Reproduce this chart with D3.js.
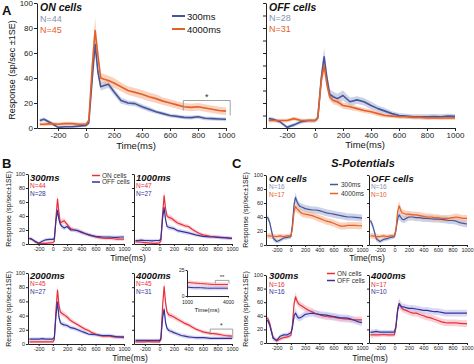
<!DOCTYPE html>
<html><head><meta charset="utf-8">
<script src="https://cdn.jsdelivr.net/npm/d3@7"></script>
<style>body{margin:0;background:#fff}svg{display:block;font-family:"Liberation Sans",Arial,sans-serif}</style>
</head><body><svg id="c" width="474" height="364"></svg>
<script>
// ---------- DATA ----------
const T = [-330,-300,-250,-200,-150,-100,-50,0,20,45,65,85,105,130,160,200,250,300,350,400,450,500,550,600,650,700,750,800,850,900,950,1000];
const xTicks = [-200,0,200,400,600,800,1000];
const yTicks = [0,20,40,60,80,100];
const yTicksMinor = [0,10,20,30,40,50,60,70,80,90,100];

// Panel A (ON cells / OFF cells; 300ms vs 4000ms)
const A_ON_300  = [6,7,4,0.5,1,1,1.5,2,4,40,67,45,33,34,35,29,22,20,19.5,17,15,13,11.5,10,9.3,8.5,8.3,9,7.8,7.5,7.2,7];
const A_ON_4000 = [3,3,3.5,3,3.5,3.5,3,3,6,50,78,58,40,39,38,36,33,30,28.5,27,25,23.5,21.5,20,18.5,17,16.5,17,16,15,14,13.5];
const A_OFF_300 = [7.5,7,5,0.5,2.5,5,6,6,8,40,57,40,27,25,23.5,26,21,22.5,21,18,15.5,13.5,11.5,10,9.5,9,9,9,9.2,9,9.5,9.3];
const A_OFF_4000= [6,6,6,6,7.5,6,6,6,8,38,50,35,25,22,21,18,17,15.5,14,13,11.5,10,9.5,9,9,8.5,8.5,8,8.2,8,8,8];
const seA_ON_300  = [1.5,1.5,1.5,1,1,1,1,1,1.5,4,5,4,3,3,3,2.5,2.5,2,2,2,2,1.5,1.5,1.5,1.5,1.5,1.5,1.5,1.5,1.5,1.5,1.5];
const seA_ON_4000 = [1.5,1.5,1.5,1.5,1.5,1.5,1.5,1.5,2,7,10,7,4,4,4,4,3.5,3.5,3.5,3.5,3.5,3.5,3,3,3,3,3,3,3,3,3,3];
const seA_OFF_300 = [1.5,1.5,1.5,1.5,1.5,1.5,1.5,1.5,2,6,7,5,4,4,4,4,3.5,3,3,3,2.5,2.5,2,2,2,2,2,2,2,2,2,2];
const seA_OFF_4000= [1.5,1.5,1.5,1.5,1.5,1.5,1.5,1.5,2,4,5,4,3,3,3,2.5,2.5,2,2,2,2,1.5,1.5,1.5,1.5,1.5,1.5,1.5,1.5,1.5,1.5,1.5];

// Panel B (ON vs OFF per duration)
const B_300_ON   = [8,7,3,0.5,1,1,1.5,2,4,40,64,45,30,32,33,28,22,20,19,17,15,13,11.5,10,9,8.5,8,8.5,7.5,7,7,7];
const B_300_OFF  = [8,7,4,1,4,6,6.5,6.5,8,35,48,35,28,25,23,25,20,20,19,17,15,13.5,12,11,10.5,10,10,10,9.5,9.5,10,10];
const B_1000_ON  = [3,3,2.5,2,1.5,1,1,1.5,4,45,69,50,40,38,37,34,30,28,26,25,21,18,15,13,12,11,10.5,10,9.5,9,8.5,8];
const B_1000_OFF = [5,5,5.5,5,5,4.5,5,5,7,38,52,35,25,24,23,22,19,18,17,16,14.5,13,12,11,10.5,10,10,9.5,9,9,8.5,8];
const B_2000_ON  = [3,3,3,3,3,3,3,3,6,50,76,55,45,43,41,38,33,30,27,24,21,19,16,14,12,11,11,11,10,10,9.5,9];
const B_2000_OFF = [7,7,7,7,7.5,7,7,7,9,42,59,38,30,28,27,26,23,22,20,18,16,14,13.5,13,12.5,12,12,12,11,10,10,10];
const B_4000_ON  = [3,3,3,3,3.5,3,3,3,6,55,81,58,45,41,40,38,35,32,29,27,24,21,19,17,16,15,14.5,14,13,12,11.5,11];
const B_4000_OFF = [5,5,5,5,5,5,5,5,7,38,49,30,22,19,18,16,14,12,11,10,9.5,9,9,9,8.5,8,8,8,8,8,8,8];
const seB_ON  = [2,2,2,2,2,2,2,2,3,6,8,6,4,4,4,3.5,3.5,3,3,3,3,2.5,2.5,2.5,2.5,2.5,2.5,2.5,2.5,2.5,2.5,2.5];
const seB_OFF = [2.5,2.5,2.5,2.5,2.5,2.5,2.5,2.5,3,5,6,5,3.5,3.5,3.5,3,3,3,3,3,2.5,2.5,2.5,2.5,2.5,2.5,2.5,2.5,2.5,2.5,2.5,2.5];

// Inset (B, 4000ms, 1000-4000ms)
const insetT = [1000,1500,2000,2500,3000,3500,4000];
const inset_ON  = [13,12.5,12,11.5,11,11,11];
const inset_OFF = [8.5,8,8,7.5,7.5,7.5,7.5];
const seInset   = [2,2,2,2,2,2,2];

// Panel C (S-potentials)
const C_ON_300   = [40,33,10,5,7,10,11,12,28,58,68,62,58,55,54,52,51,50,50,49,47.5,46,45,44,43,42,41,40,40,39.5,39,38.5];
const C_ON_4000  = [13,13,12.5,12,13,12,13,13,22,48,55,52,50,47,45,44,43,42,40,38,36,34,33,31,29,27,27,28,28,28,27.5,27.5];
const C_OFF_300  = [35,28,9,5,8,9,11,12,20,38,43,40,37,36,38,40,40,39,39,38,38,37.5,37,37,36.5,36,35,35,34,32,31,30];
const C_OFF_4000 = [13,13,12,12,13,12,13,13,22,48,56,50,46,45,44,44,43,43,42,41,40,40,39,39,38,38,38,39,40,39,38,38];
const C_300_ON   = [37,30,8,3,6,8,9,11,25,58,68,62,58,56,54,51,48,46,43,41.5,40,39,38.5,38,37,36,35.5,35,34.5,34,34,34];
const C_300_OFF  = [34,27,7,4,10,12,12,15,22,40,44,40,37,37,39,42,43,44,43,42,41.5,41,40,39,38,37,37,36.5,35,33,31,30];
const C_4000_ON  = [12,12,12,12,12.5,12,12,12,22,50,58,54,51,49,48,46,44,44,42,40,38,37,35,33,31,30,29.5,29.5,29.5,29,28.5,28.5];
const C_4000_OFF = [16,16,17,16,16,16,16,16,24,48,58,55,53,53,52,51,51,50,49,48,48,47,46,46,45,44,44,44,44,44,44,44];
const seC = [4,4,4,3,3,3,3,3,4,6,7,6,5,5,5,5,5,5,5,5,5,5,5,5,5,5,5,5,5,5,5,5];

// brackets: [t0, t1, top, bottomLeft, bottomRight]
const bracketA  = [695, 1030, 22, 14, 10];
const bracketB  = [700, 1010, 21, 13, 7.5];
const bracketIn = [3070, 4070, 15, 12, 12];

// ---------- COLORS ----------
const cBlueA = "#46569a", cBlueABand = "#aab4d8";
const cOrange = "#e4602a", cOrangeBand = "#f6b593";
const cRed = "#e8303c", cRedBand = "#f7b3b8";
const cNavy = "#33339a", cNavyBand = "#c0c0ee";
const cGrayN = "#8592b3";

const svg = d3.select("#c");
const labelJobs = [];

function panel(cfg) {
  const g = svg.append("g");
  const xs = d3.scaleLinear().domain(cfg.xDomain || [-350,1000]).range([cfg.x0, cfg.x1]);
  const ys = d3.scaleLinear().domain(cfg.yDomain || [0,100]).range([cfg.yb, cfg.yt]);
  const times = cfg.times || T;
  cfg.series.forEach(s => {
    const pts = times.map((t,i)=>({t, v:s.v[i], e:s.se[i]}));
    g.append("path")
      .attr("d", d3.area().x(p=>xs(p.t)).y0(p=>ys(Math.max(0,p.v-p.e))).y1(p=>ys(p.v+p.e))(pts))
      .attr("fill", s.band).attr("fill-opacity", 0.6);
  });
  cfg.series.forEach(s => {
    const pts = times.map((t,i)=>({t, v:s.v[i]}));
    g.append("path")
      .attr("d", d3.line().x(p=>xs(p.t)).y(p=>ys(p.v))(pts))
      .attr("fill","none").attr("stroke", s.color).attr("stroke-width", cfg.lw || 1.3)
      .attr("stroke-linejoin","round");
  });
  const yt = cfg.yTicks || yTicks;
  const ya = g.append("g").attr("transform",`translate(${cfg.x0},0)`)
    .call(d3.axisLeft(ys).tickValues(yt).tickSize(cfg.ts).tickSizeOuter(0).tickFormat(() => ""));
  const xa = g.append("g").attr("transform",`translate(0,${cfg.yb})`)
    .call(d3.axisBottom(xs).tickValues(cfg.xTicks || xTicks).tickSize(cfg.ts).tickSizeOuter(0).tickPadding(cfg.xpad || 1)
      .tickFormat(d => d < 0 ? "-" + Math.abs(d) : String(d)));
  [ya, xa].forEach(a => {
    a.selectAll("path").attr("stroke","#222").attr("stroke-width",1);
    a.selectAll("line").attr("stroke","#222");
    a.selectAll("text").attr("font-size", cfg.fs).attr("fill","#222");
  });
  if (cfg.yLab) labelJobs.push({ys, yt, x: cfg.x0 - cfg.ts - 1, fs: cfg.fs});
  if (cfg.bracket) {
    const b = cfg.bracket;
    g.append("path")
      .attr("d", d3.line()([[xs(b[0]), ys(b[3])],[xs(b[0]), ys(b[2])],[xs(b[1]), ys(b[2])],[xs(b[1]), ys(b[4])]]))
      .attr("fill","none").attr("stroke","#8a8a8a").attr("stroke-width",0.8);
    g.append("text").attr("x", (xs(b[0])+xs(b[1]))/2).attr("y", ys(b[2])-1)
      .attr("text-anchor","middle").attr("font-size", cfg.starFs || 8).attr("fill","#333").text(cfg.star);
  }
}

function txt(x, y, s, opt = {}) {
  const t = svg.append("text").attr("x", x).attr("y", y).text(s)
    .attr("font-size", opt.fs || 9).attr("fill", opt.fill || "#111");
  if (opt.bold) t.attr("font-weight","bold");
  if (opt.italic) t.attr("font-style","italic");
  if (opt.anchor) t.attr("text-anchor", opt.anchor);
  if (opt.rot) t.attr("transform", `rotate(-90,${x},${y})`);
  return t;
}
function legLine(x1, x2, y, color, w) {
  svg.append("line").attr("x1",x1).attr("x2",x2).attr("y1",y).attr("y2",y).attr("stroke",color).attr("stroke-width",w);
}

// ---------- PANEL A ----------
panel({x0:37, x1:226, yt:3, yb:128, ts:3, fs:8, yLab:true, lw:1.6, bracket:bracketA, star:"*", starFs:9,
  series:[{v:A_ON_300, se:seA_ON_300, color:cBlueA, band:cBlueABand},
          {v:A_ON_4000, se:seA_ON_4000, color:cOrange, band:cOrangeBand}]});
panel({x0:266, x1:455, yt:3, yb:128, ts:3, fs:8, yLab:false, lw:1.6, yTicks:yTicksMinor,
  series:[{v:A_OFF_300, se:seA_OFF_300, color:cBlueA, band:cBlueABand},
          {v:A_OFF_4000, se:seA_OFF_4000, color:cOrange, band:cOrangeBand}]});
txt(2, 15, "A", {fs:13, bold:true});
txt(40, 11, "ON cells", {fs:10.5, bold:true, italic:true});
txt(40, 22, "N=44", {fs:9, fill:cGrayN});
txt(40, 33, "N=45", {fs:9, fill:cOrange});
legLine(172, 185, 16, cBlueA, 2); txt(187, 19.5, "300ms", {fs:9.5});
legLine(172, 185, 29, cOrange, 2); txt(187, 32.5, "4000ms", {fs:9.5});
txt(269, 11, "OFF cells", {fs:10.5, bold:true, italic:true});
txt(269, 21, "N=28", {fs:9, fill:cGrayN});
txt(269, 32, "N=31", {fs:9, fill:cOrange});
txt(15, 70, "Response (sp/sec ±1SE)", {fs:9, rot:true, anchor:"middle"});
txt(136, 149, "Time(ms)", {fs:9.5, anchor:"middle"});
txt(365, 148, "Time(ms)", {fs:9.5, anchor:"middle"});

// ---------- PANEL B ----------
const bOpt = {ts:2, fs:5.5, lw:1.2};
panel({...bOpt, x0:28, x1:124, yt:174, yb:244, yLab:true,
  series:[{v:B_300_ON, se:seB_ON, color:cRed, band:cRedBand},{v:B_300_OFF, se:seB_OFF, color:cNavy, band:cNavyBand}]});
panel({...bOpt, x0:134, x1:232, yt:174, yb:244, yLab:false,
  series:[{v:B_1000_ON, se:seB_ON, color:cRed, band:cRedBand},{v:B_1000_OFF, se:seB_OFF, color:cNavy, band:cNavyBand}]});
panel({...bOpt, x0:28, x1:124, yt:273, yb:344, yLab:true,
  series:[{v:B_2000_ON, se:seB_ON, color:cRed, band:cRedBand},{v:B_2000_OFF, se:seB_OFF, color:cNavy, band:cNavyBand}]});
panel({...bOpt, x0:134, x1:232, yt:273, yb:344, yLab:false, bracket:bracketB, star:"*", starFs:7,
  series:[{v:B_4000_ON, se:seB_ON, color:cRed, band:cRedBand},{v:B_4000_OFF, se:seB_OFF, color:cNavy, band:cNavyBand}]});
panel({ts:1.5, fs:5, lw:1, x0:187, x1:228, yt:270, yb:296, yDomain:[0,25], xDomain:[1000,4000], times:insetT,
  yTicks:[0,25], xTicks:[1000,4000], yLab:true, xpad:2.5, bracket:bracketIn, star:"**", starFs:6,
  series:[{v:inset_ON, se:seInset, color:cRed, band:cRedBand},{v:inset_OFF, se:seInset, color:cNavy, band:cNavyBand}]});
txt(207, 312, "Time(ms)", {fs:6, anchor:"middle"});

txt(2, 168, "B", {fs:13, bold:true});
[[30,181,"300ms","N=44","N=28"],[136,181,"1000ms","N=47","N=27"],
 [30,279,"2000ms","N=45","N=27"],[136,279,"4000ms","N=45","N=31"]].forEach(d => {
  txt(d[0], d[1], d[2], {fs:9.5, bold:true, italic:true});
  txt(d[0], d[1]+7, d[3], {fs:6.5, fill:cRed});
  txt(d[0], d[1]+14.5, d[4], {fs:6.5, fill:cNavy});
});
legLine(92, 100, 175.5, cRed, 1.5); txt(102, 177.5, "ON cells", {fs:6.5, fill:"#333"});
legLine(92, 100, 182, cNavy, 1.5); txt(102, 184, "OFF cells", {fs:6.5, fill:"#333"});
txt(11, 209, "Response (sp/sec±1SE)", {fs:7, rot:true, anchor:"middle"});
txt(11, 309, "Response (sp/sec±1SE)", {fs:7, rot:true, anchor:"middle"});
txt(128, 261, "Time(ms)", {fs:8.5, anchor:"middle"});
txt(130, 361, "Time(ms)", {fs:8.5, anchor:"middle"});

// ---------- PANEL C ----------
const cOpt = {ts:2, fs:5.5, lw:1.2};
panel({...cOpt, x0:266, x1:362, yt:175, yb:245, yLab:true,
  series:[{v:C_ON_300, se:seC, color:cBlueA, band:cBlueABand},{v:C_ON_4000, se:seC, color:cOrange, band:cOrangeBand}]});
panel({...cOpt, x0:369, x1:467, yt:175, yb:245, yLab:false,
  series:[{v:C_OFF_300, se:seC, color:cBlueA, band:cBlueABand},{v:C_OFF_4000, se:seC, color:cOrange, band:cOrangeBand}]});
panel({...cOpt, x0:266, x1:362, yt:275, yb:343, yLab:true,
  series:[{v:C_300_ON, se:seC, color:cRed, band:cRedBand},{v:C_300_OFF, se:seC, color:cNavy, band:cNavyBand}]});
panel({...cOpt, x0:369, x1:467, yt:275, yb:343, yLab:false,
  series:[{v:C_4000_ON, se:seC, color:cRed, band:cRedBand},{v:C_4000_OFF, se:seC, color:cNavy, band:cNavyBand}]});

txt(232, 168, "C", {fs:13, bold:true});
txt(363, 167, "S-Potentials", {fs:11, bold:true, italic:true, anchor:"middle"});
txt(269, 182, "ON cells", {fs:9.5, bold:true, italic:true});
txt(269, 189, "N=16", {fs:6.5, fill:cGrayN});
txt(269, 196.5, "N=17", {fs:6.5, fill:cOrange});
txt(371, 182, "OFF cells", {fs:9.5, bold:true, italic:true});
txt(371, 189, "N=16", {fs:6.5, fill:cGrayN});
txt(371, 196.5, "N=10", {fs:6.5, fill:cOrange});
legLine(330, 338, 184.5, cBlueA, 1.5); txt(341, 186.5, "300ms", {fs:6.5, fill:"#333"});
legLine(330, 338, 193.5, cOrange, 1.5); txt(341, 195.5, "4000ms", {fs:6.5, fill:"#333"});
txt(269, 279, "300ms", {fs:9.5, bold:true, italic:true});
txt(269, 286.5, "N=16", {fs:6.5, fill:cRed});
txt(269, 294, "N=16", {fs:6.5, fill:cNavy});
txt(371, 279, "4000ms", {fs:9.5, bold:true, italic:true});
txt(371, 286.5, "N=17", {fs:6.5, fill:cRed});
txt(371, 294, "N=10", {fs:6.5, fill:cNavy});
legLine(327, 335, 273.5, cRed, 1.5); txt(337, 275.5, "ON cells", {fs:6.5, fill:"#333"});
legLine(327, 335, 280.5, cNavy, 1.5); txt(337, 282.5, "OFF cells", {fs:6.5, fill:"#333"});
txt(248, 210, "Response (sp/sec±1SE)", {fs:7, rot:true, anchor:"middle"});
txt(248, 309, "Response (sp/sec±1SE)", {fs:7, rot:true, anchor:"middle"});
txt(367, 261, "Time(ms)", {fs:8.5, anchor:"middle"});
txt(370, 361, "Time(ms)", {fs:8.5, anchor:"middle"});

// ---------- Y tick labels (top layer, placed with each panel's scale) ----------
const labelLayer = svg.append("g");
labelJobs.forEach(j => {
  labelLayer.selectAll(null).data(j.yt).enter().append("text")
    .attr("x", j.x).attr("y", d => j.ys(d)).attr("dy", "0.35em")
    .attr("text-anchor", "end").attr("font-size", j.fs).attr("fill", "#222")
    .text(d => String(d));
});
</script></body></html>
